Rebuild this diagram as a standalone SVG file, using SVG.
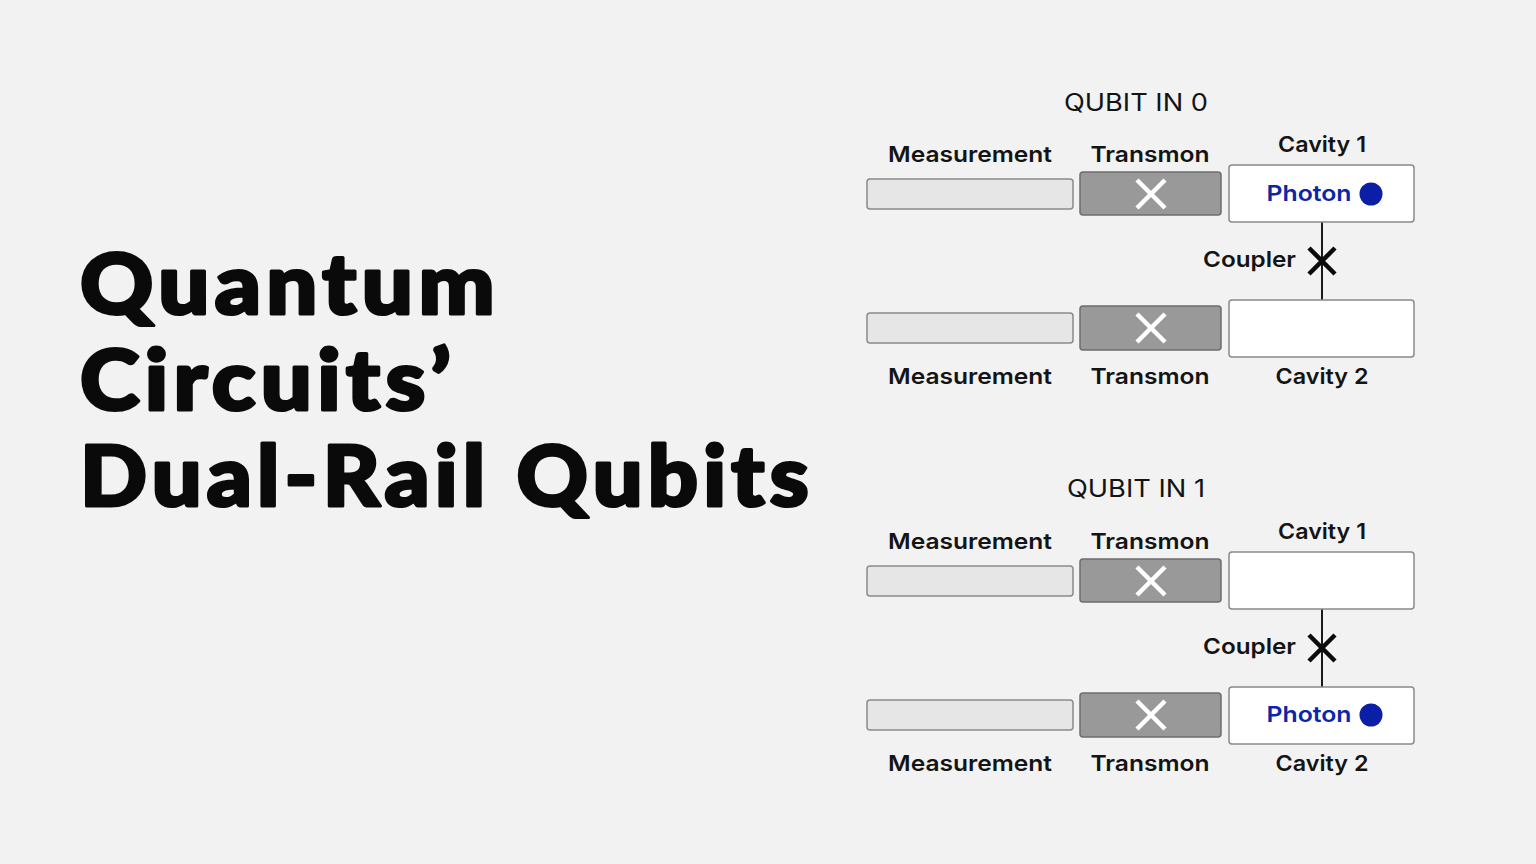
<svg xmlns="http://www.w3.org/2000/svg" width="1536" height="864" viewBox="0 0 1536 864">
<defs>
<style>
.bg{fill:#f2f2f2}
.title{font-family:"Lato","Inter","Liberation Sans",sans-serif;font-weight:900;font-size:84px;letter-spacing:5px;fill:#0a0a0a;stroke:#0a0a0a;stroke-width:3.2;stroke-linejoin:round}
.lbl{font-family:"Inter","Open Sans","Liberation Sans",sans-serif;font-weight:600;font-size:22px;fill:#141414;text-anchor:middle}
.head{font-family:"Inter","Open Sans","Liberation Sans",sans-serif;font-weight:400;font-size:24px;fill:#141414;text-anchor:middle}
.photon{font-family:"Inter","Open Sans","Liberation Sans",sans-serif;font-weight:600;font-size:22px;fill:#0d25a8;text-anchor:middle}
.meas{fill:#e6e6e6;stroke:#8a8a8a;stroke-width:1.5}
.trans{fill:#999999;stroke:#6e6e6e;stroke-width:1.5}
.cav{fill:#ffffff;stroke:#8a8a8a;stroke-width:1.5}
.wx{stroke:#ffffff;stroke-width:4.5;fill:none}
.bx{stroke:#0a0a0a;stroke-width:4.5;fill:none}
.link{stroke:#1a1a1a;stroke-width:2;fill:none}
.dot{fill:#0a1fa6}
</style>
</defs>
<rect class="bg" x="0" y="0" width="1536" height="864"/>
<g id="title">
<text class="title" x="80" y="314" textLength="420" lengthAdjust="spacingAndGlyphs">Quantum</text>
<text class="title" x="80" y="410" textLength="376" lengthAdjust="spacingAndGlyphs">Circuits’</text>
<text class="title" x="80" y="506" textLength="734" lengthAdjust="spacingAndGlyphs">Dual-Rail Qubits</text>
</g>
<g id="connectors">
<line class="link" x1="1322" y1="222" x2="1322" y2="300"/>
<line class="link" x1="1322" y1="609" x2="1322" y2="687"/>
</g>
<g id="qubit0">
<text class="head" x="1136" y="111" textLength="144" lengthAdjust="spacingAndGlyphs">QUBIT IN 0</text>
<g id="q0-meas1">
<rect class="meas" x="867" y="179" width="206" height="30" rx="3"/>
<text class="lbl" x="970" y="162" textLength="164" lengthAdjust="spacingAndGlyphs">Measurement</text>
</g>
<g id="q0-trans1">
<rect class="trans" x="1080" y="172" width="141" height="43" rx="3"/>
<path class="wx" d="M1137,180 L1165,208 M1165,180 L1137,208"/>
<text class="lbl" x="1150" y="162" textLength="119" lengthAdjust="spacingAndGlyphs">Transmon</text>
</g>
<g id="q0-cav1">
<rect class="cav" x="1229" y="165" width="185" height="57" rx="3"/>
<text class="lbl" x="1322" y="152" textLength="88" lengthAdjust="spacingAndGlyphs">Cavity 1</text>
<text class="photon" x="1309" y="201" textLength="85" lengthAdjust="spacingAndGlyphs">Photon</text>
<circle class="dot" cx="1371" cy="194" r="11.5"/>
</g>
<g id="q0-coupler">
<path class="bx" d="M1309,248 L1335,274 M1335,248 L1309,274"/>
<text class="lbl" x="1249.5" y="267" textLength="93" lengthAdjust="spacingAndGlyphs">Coupler</text>
</g>
<g id="q0-meas2">
<rect class="meas" x="867" y="313" width="206" height="30" rx="3"/>
<text class="lbl" x="970" y="384" textLength="164" lengthAdjust="spacingAndGlyphs">Measurement</text>
</g>
<g id="q0-trans2">
<rect class="trans" x="1080" y="306" width="141" height="44" rx="3"/>
<path class="wx" d="M1137,314 L1165,342 M1165,314 L1137,342"/>
<text class="lbl" x="1150" y="384" textLength="119" lengthAdjust="spacingAndGlyphs">Transmon</text>
</g>
<g id="q0-cav2">
<rect class="cav" x="1229" y="300" width="185" height="57" rx="3"/>
<text class="lbl" x="1322" y="384" textLength="93" lengthAdjust="spacingAndGlyphs">Cavity 2</text>
</g>
</g>
<g id="qubit1">
<text class="head" x="1136" y="497" textLength="138" lengthAdjust="spacingAndGlyphs">QUBIT IN 1</text>
<g id="q1-meas1">
<rect class="meas" x="867" y="566" width="206" height="30" rx="3"/>
<text class="lbl" x="970" y="549" textLength="164" lengthAdjust="spacingAndGlyphs">Measurement</text>
</g>
<g id="q1-trans1">
<rect class="trans" x="1080" y="559" width="141" height="43" rx="3"/>
<path class="wx" d="M1137,567 L1165,595 M1165,567 L1137,595"/>
<text class="lbl" x="1150" y="549" textLength="119" lengthAdjust="spacingAndGlyphs">Transmon</text>
</g>
<g id="q1-cav1">
<rect class="cav" x="1229" y="552" width="185" height="57" rx="3"/>
<text class="lbl" x="1322" y="539" textLength="88" lengthAdjust="spacingAndGlyphs">Cavity 1</text>
</g>
<g id="q1-coupler">
<path class="bx" d="M1309,635 L1335,661 M1335,635 L1309,661"/>
<text class="lbl" x="1249.5" y="654" textLength="93" lengthAdjust="spacingAndGlyphs">Coupler</text>
</g>
<g id="q1-meas2">
<rect class="meas" x="867" y="700" width="206" height="30" rx="3"/>
<text class="lbl" x="970" y="771" textLength="164" lengthAdjust="spacingAndGlyphs">Measurement</text>
</g>
<g id="q1-trans2">
<rect class="trans" x="1080" y="693" width="141" height="44" rx="3"/>
<path class="wx" d="M1137,701 L1165,729 M1165,701 L1137,729"/>
<text class="lbl" x="1150" y="771" textLength="119" lengthAdjust="spacingAndGlyphs">Transmon</text>
</g>
<g id="q1-cav2">
<rect class="cav" x="1229" y="687" width="185" height="57" rx="3"/>
<text class="lbl" x="1322" y="771" textLength="93" lengthAdjust="spacingAndGlyphs">Cavity 2</text>
<text class="photon" x="1309" y="722" textLength="85" lengthAdjust="spacingAndGlyphs">Photon</text>
<circle class="dot" cx="1371" cy="715" r="11.5"/>
</g>
</g>
</svg>
